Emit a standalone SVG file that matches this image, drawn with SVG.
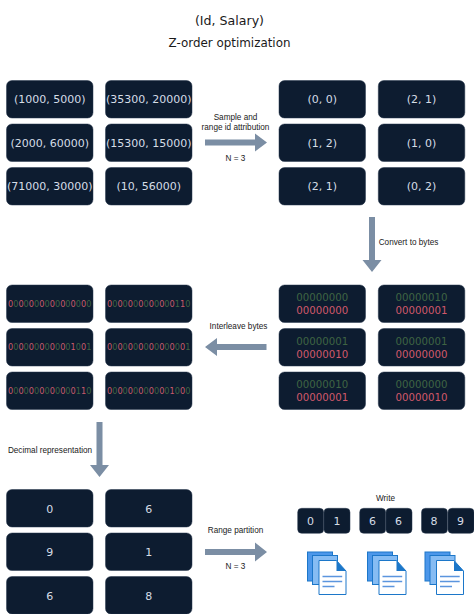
<svg xmlns="http://www.w3.org/2000/svg" width="474" height="614" viewBox="0 0 474 614">
<style>
.b{fill:#0d1c30;stroke:#26364c;stroke-width:.5}
.t{font-family:"DejaVu Sans",sans-serif;font-size:11px;fill:#d5dde6;text-anchor:middle}
.h{font-family:"DejaVu Sans",sans-serif;font-size:12.6px;fill:#1a1a1a;text-anchor:middle}
.h2{font-family:"DejaVu Sans",sans-serif;font-size:11.9px;fill:#1a1a1a;text-anchor:middle}
.l{font-family:"Liberation Sans",Arial,sans-serif;font-size:8.2px;fill:#1a1a1a;text-anchor:middle}
.g{font-family:"DejaVu Sans",sans-serif;font-size:10.2px;fill:#3f6443;text-anchor:middle}
.r{font-family:"DejaVu Sans",sans-serif;font-size:10.2px;fill:#d0586a;text-anchor:middle}
.m{font-family:"DejaVu Sans",sans-serif;font-size:8.2px;text-anchor:middle}
.x{fill:#c85a6d}.y{fill:#3f6443}
.a{fill:#7b8ea4}
.s{font-family:"DejaVu Sans",sans-serif;font-size:11px;fill:#d5dde6;text-anchor:middle}
</style>
<defs>
<rect id="box" class="b" width="86.5" height="37.5" rx="5.5"/>
<rect id="sb" class="b" width="26" height="25" rx="4"/>
<g id="doc">
<rect x="0" y="0" width="25" height="29" fill="#4c97ea" stroke="#1c77c9" stroke-width="1"/>
<rect x="5" y="3.500" width="25" height="29" fill="#86bcf3" stroke="#1c77c9" stroke-width="1"/>
<path d="M11.500 8.500H29L38.500 19V42.500H11.500Z" fill="#fff" stroke="#1c77c9" stroke-width="1"/>
<path d="M29 8.500L38.500 19H29Z" fill="#1c77c9"/>
<path d="M15 24.500H34.700M15 29.500H34.700M15 34.500H27" stroke="#5b95de" stroke-width="1.600" fill="none"/>
</g>
</defs>
<rect width="474" height="614" fill="#fff"/>
<text class="h" x="229.500" y="25">(Id, Salary)</text>
<text class="h2" x="229.500" y="46.500">Z-order optimization</text>

<g id="connectors">
<path class="a" d="M205 139.500H255V133.500L267 142.500L255 151.500V145.500H205Z"/>
<path class="a" d="M369 217H375V260H381.500L372 272L362.500 260H369Z"/>
<path class="a" d="M266.500 344V350H217V356L205 347L217 338V344Z"/>
<path class="a" d="M96.500 422H102.500V465H109L99.500 477L90 465H96.500Z"/>
<path class="a" d="M205 549H255V542.500L267 552L255 561.500V555H205Z"/>
</g>
<g id="labels">
<text class="l" x="235.500" y="119.500">Sample and</text>
<text class="l" x="235.500" y="129.500">range id attribution</text>
<text class="l" x="235.500" y="161">N = 3</text>
<text class="l" x="408.500" y="245">Convert to bytes</text>
<text class="l" x="238.500" y="328.500">Interleave bytes</text>
<text class="l" x="50" y="452.500">Decimal representation</text>
<text class="l" x="235.500" y="533">Range partition</text>
<text class="l" x="235.500" y="569">N = 3</text>
<text class="l" x="385.500" y="501">Write</text>
</g>

<g id="n1"><use href="#box" x="6.500" y="80.500"/><text class="t" x="49.700" y="103">(1000, 5000)</text></g>
<g id="n2"><use href="#box" x="105.500" y="80.500"/><text class="t" x="148.700" y="103">(35300, 20000)</text></g>
<g id="n3"><use href="#box" x="6.500" y="124"/><text class="t" x="49.700" y="146.500">(2000, 60000)</text></g>
<g id="n4"><use href="#box" x="105.500" y="124"/><text class="t" x="148.700" y="146.500">(15300, 15000)</text></g>
<g id="n5"><use href="#box" x="6.500" y="167.500"/><text class="t" x="49.700" y="190">(71000, 30000)</text></g>
<g id="n6"><use href="#box" x="105.500" y="167.500"/><text class="t" x="148.700" y="190">(10, 56000)</text></g>

<g id="n7"><use href="#box" x="279" y="80.500"/><text class="t" x="322.200" y="103">(0, 0)</text></g>
<g id="n8"><use href="#box" x="378.300" y="80.500"/><text class="t" x="421.500" y="103">(2, 1)</text></g>
<g id="n9"><use href="#box" x="279" y="124"/><text class="t" x="322.200" y="146.500">(1, 2)</text></g>
<g id="n10"><use href="#box" x="378.300" y="124"/><text class="t" x="421.500" y="146.500">(1, 0)</text></g>
<g id="n11"><use href="#box" x="279" y="167.500"/><text class="t" x="322.200" y="190">(2, 1)</text></g>
<g id="n12"><use href="#box" x="378.300" y="167.500"/><text class="t" x="421.500" y="190">(0, 2)</text></g>

<g id="n13"><use href="#box" x="279" y="285"/><text class="g" x="322.200" y="301">00000000</text><text class="r" x="322.200" y="314">00000000</text></g>
<g id="n14"><use href="#box" x="378.300" y="285"/><text class="g" x="421.500" y="301">00000010</text><text class="r" x="421.500" y="314">00000001</text></g>
<g id="n15"><use href="#box" x="279" y="328.500"/><text class="g" x="322.200" y="344.500">00000001</text><text class="r" x="322.200" y="357.500">00000010</text></g>
<g id="n16"><use href="#box" x="378.300" y="328.500"/><text class="g" x="421.500" y="344.500">00000001</text><text class="r" x="421.500" y="357.500">00000000</text></g>
<g id="n17"><use href="#box" x="279" y="372"/><text class="g" x="322.200" y="388">00000010</text><text class="r" x="322.200" y="401">00000001</text></g>
<g id="n18"><use href="#box" x="378.300" y="372"/><text class="g" x="421.500" y="388">00000000</text><text class="r" x="421.500" y="401">00000010</text></g>

<g id="n19"><use href="#box" x="6.500" y="285"/><text class="m" x="49.700" y="306.500"><tspan class="x">0</tspan><tspan class="y">0</tspan><tspan class="x">0</tspan><tspan class="y">0</tspan><tspan class="x">0</tspan><tspan class="y">0</tspan><tspan class="x">0</tspan><tspan class="y">0</tspan><tspan class="x">0</tspan><tspan class="y">0</tspan><tspan class="x">0</tspan><tspan class="y">0</tspan><tspan class="x">0</tspan><tspan class="y">0</tspan><tspan class="x">0</tspan><tspan class="y">0</tspan></text></g>
<g id="n20"><use href="#box" x="105.500" y="285"/><text class="m" x="148.700" y="306.500"><tspan class="x">0</tspan><tspan class="y">0</tspan><tspan class="x">0</tspan><tspan class="y">0</tspan><tspan class="x">0</tspan><tspan class="y">0</tspan><tspan class="x">0</tspan><tspan class="y">0</tspan><tspan class="x">0</tspan><tspan class="y">0</tspan><tspan class="x">0</tspan><tspan class="y">0</tspan><tspan class="x">0</tspan><tspan class="y">1</tspan><tspan class="x">1</tspan><tspan class="y">0</tspan></text></g>
<g id="n21"><use href="#box" x="6.500" y="328.500"/><text class="m" x="49.700" y="350"><tspan class="x">0</tspan><tspan class="y">0</tspan><tspan class="x">0</tspan><tspan class="y">0</tspan><tspan class="x">0</tspan><tspan class="y">0</tspan><tspan class="x">0</tspan><tspan class="y">0</tspan><tspan class="x">0</tspan><tspan class="y">0</tspan><tspan class="x">0</tspan><tspan class="y">0</tspan><tspan class="x">1</tspan><tspan class="y">0</tspan><tspan class="x">0</tspan><tspan class="y">1</tspan></text></g>
<g id="n22"><use href="#box" x="105.500" y="328.500"/><text class="m" x="148.700" y="350"><tspan class="x">0</tspan><tspan class="y">0</tspan><tspan class="x">0</tspan><tspan class="y">0</tspan><tspan class="x">0</tspan><tspan class="y">0</tspan><tspan class="x">0</tspan><tspan class="y">0</tspan><tspan class="x">0</tspan><tspan class="y">0</tspan><tspan class="x">0</tspan><tspan class="y">0</tspan><tspan class="x">0</tspan><tspan class="y">0</tspan><tspan class="x">0</tspan><tspan class="y">1</tspan></text></g>
<g id="n23"><use href="#box" x="6.500" y="372"/><text class="m" x="49.700" y="393.500"><tspan class="x">0</tspan><tspan class="y">0</tspan><tspan class="x">0</tspan><tspan class="y">0</tspan><tspan class="x">0</tspan><tspan class="y">0</tspan><tspan class="x">0</tspan><tspan class="y">0</tspan><tspan class="x">0</tspan><tspan class="y">0</tspan><tspan class="x">0</tspan><tspan class="y">0</tspan><tspan class="x">0</tspan><tspan class="y">1</tspan><tspan class="x">1</tspan><tspan class="y">0</tspan></text></g>
<g id="n24"><use href="#box" x="105.500" y="372"/><text class="m" x="148.700" y="393.500"><tspan class="x">0</tspan><tspan class="y">0</tspan><tspan class="x">0</tspan><tspan class="y">0</tspan><tspan class="x">0</tspan><tspan class="y">0</tspan><tspan class="x">0</tspan><tspan class="y">0</tspan><tspan class="x">0</tspan><tspan class="y">0</tspan><tspan class="x">0</tspan><tspan class="y">0</tspan><tspan class="x">1</tspan><tspan class="y">0</tspan><tspan class="x">0</tspan><tspan class="y">0</tspan></text></g>

<g id="n25"><use href="#box" x="6.500" y="489.500"/><text class="t" x="49.700" y="512.500">0</text></g>
<g id="n26"><use href="#box" x="105.500" y="489.500"/><text class="t" x="148.700" y="512.500">6</text></g>
<g id="n27"><use href="#box" x="6.500" y="533"/><text class="t" x="49.700" y="556">9</text></g>
<g id="n28"><use href="#box" x="105.500" y="533"/><text class="t" x="148.700" y="556">1</text></g>
<g id="n29"><use href="#box" x="6.500" y="576.500"/><text class="t" x="49.700" y="599.500">6</text></g>
<g id="n30"><use href="#box" x="105.500" y="576.500"/><text class="t" x="148.700" y="599.500">8</text></g>

<g id="n31"><use href="#sb" x="297.700" y="508.300"/><text class="s" x="310.500" y="525">0</text></g>
<g id="n32"><use href="#sb" x="324" y="508.300"/><text class="s" x="337" y="525">1</text></g>
<g id="n33"><use href="#sb" x="359.700" y="508.300"/><text class="s" x="372.500" y="525">6</text></g>
<g id="n34"><use href="#sb" x="386" y="508.300"/><text class="s" x="398.500" y="525">6</text></g>
<g id="n35"><use href="#sb" x="421.500" y="508.300"/><text class="s" x="434" y="525">8</text></g>
<g id="n36"><use href="#sb" x="448" y="508.300"/><text class="s" x="460.500" y="525">9</text></g>

<g id="doc1"><use href="#doc" x="307.500" y="552"/></g>
<g id="doc2"><use href="#doc" x="367.500" y="552"/></g>
<g id="doc3"><use href="#doc" x="425" y="552"/></g>
</svg>
